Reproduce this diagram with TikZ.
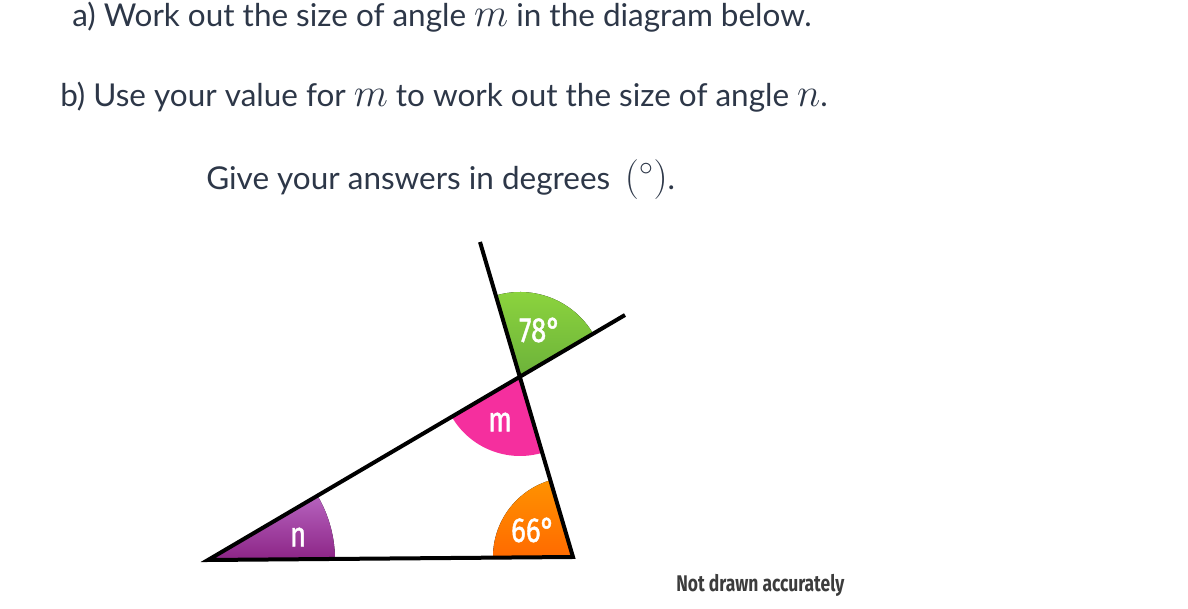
\documentclass[tikz,border=0pt]{standalone}
\usepackage{fontspec}
\setmainfont{Lato}
\newfontfamily\tagfont{Fira Sans}
\newfontfamily\anglefont{Fira Sans}[FakeBold=1.4]
\newcommand{\narrow}[1]{\scalebox{0.8}[1]{#1}}
\newcommand{\mvar}[1]{\scalebox{1.2}{$#1$}}
\definecolor{inkgrey}{RGB}{45,55,72}
\definecolor{notegrey}{RGB}{60,60,60}
\definecolor{purpletop}{RGB}{182,99,190}
\definecolor{purplebot}{RGB}{140,36,134}
\definecolor{orangetop}{RGB}{255,146,0}
\definecolor{orangebot}{RGB}{255,106,0}
\definecolor{pinkfill}{RGB}{245,47,158}
\definecolor{greentop}{RGB}{142,214,62}
\definecolor{greenbot}{RGB}{108,178,58}

\begin{document}
\begin{tikzpicture}[x=0.75pt, y=0.75pt,
	question/.style={anchor=base west, text=inkgrey, font=\fontsize{23.6}{28}\selectfont, inner sep=0},
	anglelabel/.style={text=white, font=\anglefont\fontsize{26}{29}\selectfont, inner sep=0},
	side/.style={line width=3pt, line join=miter}]
	\useasboundingbox (0, 0) rectangle (1188, 609);
	% the question text
	\node (qa) at (72, 582)		[question]	{a) Work out the size of angle \mvar{m} in the diagram below.};
	\node (qb) at (60, 502)		[question]	{b) Use your value for \mvar{m} to work out the size of angle \mvar{n}.};
	\node (qc) at (206, 419)	[question]	{Give your answers in degrees \mvar{\,(^\circ)}.};
	% corners of the triangle and ends of the lines
	\coordinate (A) at (208, 49);
	\coordinate (C) at (573, 52);
	\coordinate (B) at (520, 232);
	\coordinate (T) at (480, 367);
	\coordinate (R) at (625, 294);
	% coloured angles
	\fill[top color=purpletop, bottom color=purplebot]
		(A) -- ++(0:127) arc[start angle=0, end angle=30.4, radius=127] -- cycle;
	\fill[top color=orangetop, bottom color=orangebot]
		(C) -- ++(106.4:80) arc[start angle=106.4, end angle=180, radius=80] -- cycle;
	\fill[pinkfill]
		(B) -- ++(210.4:79) arc[start angle=210.4, end angle=286.4, radius=79] -- cycle;
	\fill[top color=greentop, bottom color=greenbot]
		(B) -- ++(30.4:85) arc[start angle=30.4, end angle=106.4, radius=85] -- cycle;
	% the lines
	\draw[side] (R) -- (A) -- (C) -- (T);
	% angle labels
	\node (l78) at (540, 279)	[anglelabel]	{\narrow{78°}};
	\node (lm) at (500, 187)	[anglelabel]	{\narrow{m}};
	\node (ln) at (298, 72)		[anglelabel]	{\narrow{n}};
	\node (l66) at (533, 79)	[anglelabel]	{\narrow{66°}};
	\node (note) at (676, 17)	[anchor=base west, inner sep=0, text=notegrey, font=\tagfont\fontsize{17}{20}\selectfont\bfseries]
		{\scalebox{0.77}[1]{Not drawn accurately}};
\end{tikzpicture}
\end{document}
